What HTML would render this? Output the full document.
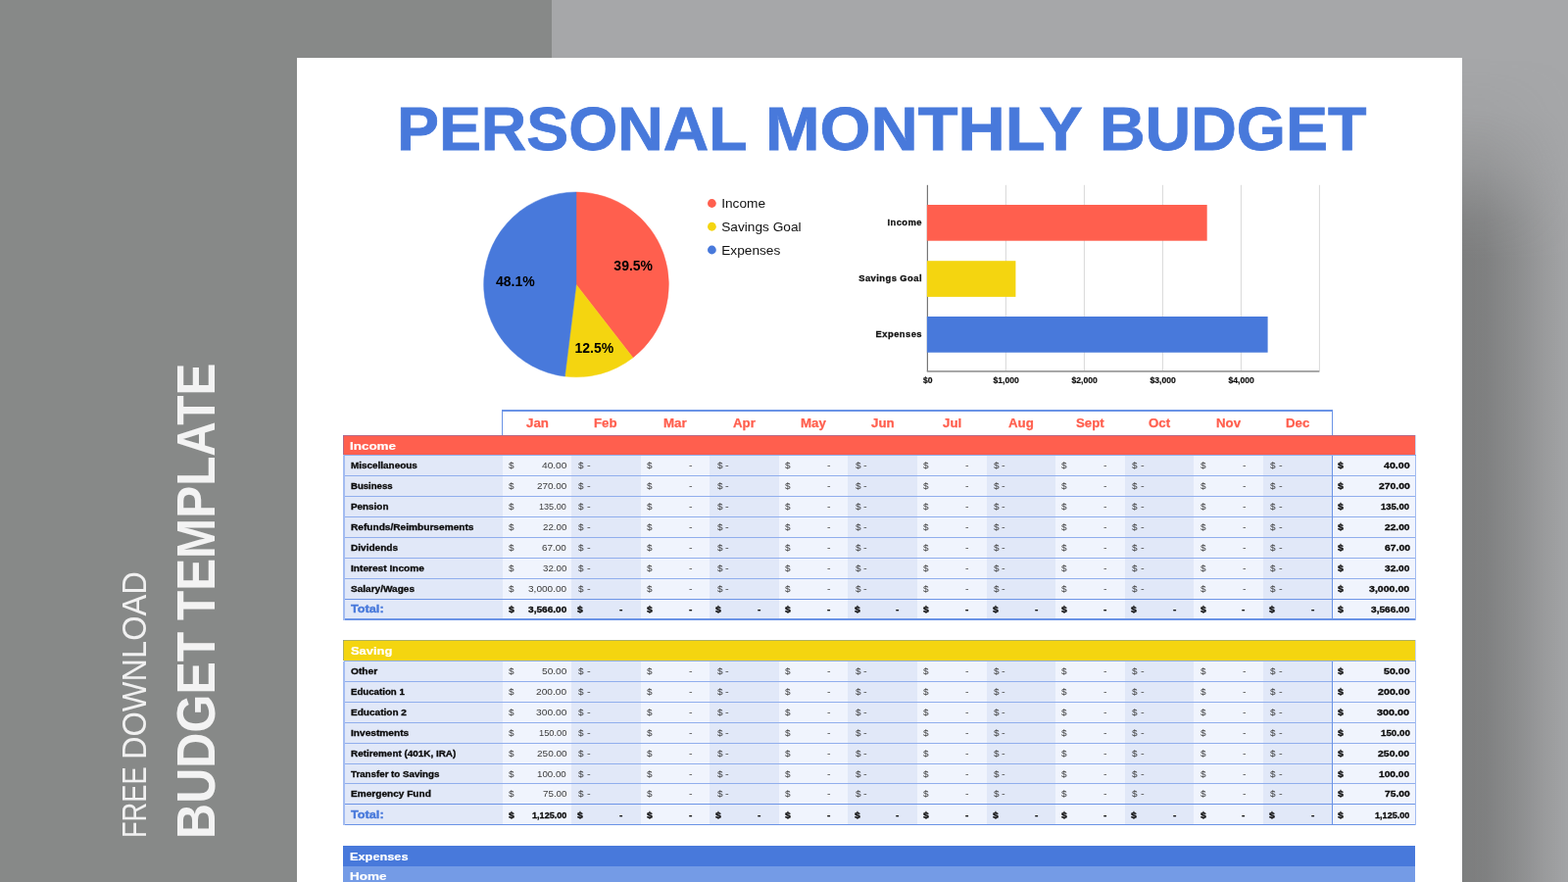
<!DOCTYPE html>
<html lang="en">
<head>
<meta charset="utf-8">
<title>Personal Monthly Budget - Free Download Budget Template</title>
<style>
html,body{margin:0;padding:0;}
body{width:1600px;height:900px;overflow:hidden;background:#a6a7a9;font-family:"Liberation Sans",sans-serif;}
#stage{position:relative;width:1600px;height:900px;overflow:hidden;background:#a6a7a9;}
.leftpanel{position:absolute;left:0;top:0;width:563px;height:900px;background:#878988;}
.shadow{position:absolute;left:1492px;top:59px;width:108px;height:841px;
  background:linear-gradient(to right, rgba(92,93,92,0.56) 0%, rgba(92,93,92,0.52) 22%, rgba(92,93,92,0.36) 50%, rgba(92,93,92,0.16) 78%, rgba(92,93,92,0.04) 100%);
  -webkit-mask-image:linear-gradient(to bottom, rgba(0,0,0,0) 0px, rgba(0,0,0,0.10) 55px, rgba(0,0,0,0.42) 110px, rgba(0,0,0,0.85) 165px, rgba(0,0,0,1) 205px);
  mask-image:linear-gradient(to bottom, rgba(0,0,0,0) 0px, rgba(0,0,0,0.10) 55px, rgba(0,0,0,0.42) 110px, rgba(0,0,0,0.85) 165px, rgba(0,0,0,1) 205px);}
.page{position:absolute;left:303px;top:59px;width:1189px;height:841px;background:#fff;}
.r{position:absolute;}
.t{position:absolute;white-space:nowrap;transform-origin:0 50%;font-family:"Liberation Sans",sans-serif;font-weight:400;}
.t.b{font-weight:700;}
.rot{position:absolute;width:0;height:0;transform:rotate(-90deg);transform-origin:0 0;}
svg.charts{position:absolute;left:0;top:0;}
svg.charts text{font-family:"Liberation Sans",sans-serif;}
</style>
</head>
<body>
<div id="stage">
<div class="leftpanel"></div>
<div class="shadow"></div>
<div class="rot" style="left:149.0px;top:852.9px"><span class="t free" style="left:-2.23px;top:-32.00px;font-size:34.88px;line-height:39px;transform:scaleX(0.7800);color:#f1f1f1;">FREE</span><span class="t free" style="left:78.13px;top:-32.00px;font-size:34.88px;line-height:39px;transform:scaleX(0.9335);color:#f1f1f1;">DOWNLOAD</span></div>
<div class="rot" style="left:219.0px;top:853.1px"><span class="t b budget" style="left:-3.35px;top:-51.00px;font-size:56.32px;line-height:63px;transform:scaleX(0.8891);color:#f3f3f3;">BUDGET</span><span class="t b budget" style="left:219.55px;top:-51.00px;font-size:56.32px;line-height:63px;transform:scaleX(0.8770);color:#f3f3f3;">TEMPLATE</span></div>
<div class="page"></div>
<svg class="charts" width="1600" height="900" viewBox="0 0 1600 900">
<path d="M588.00,290.40 L588.00,196.00 A94.4,94.4 0 0 1 645.86,364.99 Z" fill="#ff5f4e" stroke="#ff5f4e" stroke-width="0.5"/>
<path d="M588.00,290.40 L645.86,364.99 A94.4,94.4 0 0 1 576.40,384.08 Z" fill="#f4d510" stroke="#f4d510" stroke-width="0.5"/>
<path d="M588.00,290.40 L576.40,384.08 A94.4,94.4 0 0 1 588.00,196.00 Z" fill="#4879db" stroke="#4879db" stroke-width="0.5"/>
<text x="646.2" y="275.6" text-anchor="middle" font-size="14" font-weight="bold" fill="#000">39.5%</text>
<text x="525.8" y="291.8" text-anchor="middle" font-size="14" font-weight="bold" fill="#000">48.1%</text>
<text x="606.4" y="359.6" text-anchor="middle" font-size="14" font-weight="bold" fill="#000">12.5%</text>
<circle cx="726.4" cy="207.5" r="4.4" fill="#ff5f4e"/>
<text x="736.2" y="212.20" font-size="13.7" fill="#111">Income</text>
<circle cx="726.4" cy="231.25" r="4.4" fill="#f4d510"/>
<text x="736.2" y="235.95" font-size="13.7" fill="#111">Savings Goal</text>
<circle cx="726.4" cy="255.0" r="4.4" fill="#4879db"/>
<text x="736.2" y="259.70" font-size="13.7" fill="#111">Expenses</text>
<rect x="1025.90" y="188.8" width="1" height="189.6" fill="#d9d9d9"/>
<rect x="1105.90" y="188.8" width="1" height="189.6" fill="#d9d9d9"/>
<rect x="1185.90" y="188.8" width="1" height="189.6" fill="#d9d9d9"/>
<rect x="1265.90" y="188.8" width="1" height="189.6" fill="#d9d9d9"/>
<rect x="1345.90" y="188.8" width="1" height="189.6" fill="#d9d9d9"/>
<rect x="945.80" y="188.8" width="1.2" height="190.2" fill="#777"/>
<rect x="945.80" y="378.2" width="400.60" height="1.5" fill="#8c8c8c"/>
<rect x="945.90" y="209.0" width="285.78" height="36.7" fill="#ff5f4e"/>
<text x="941.0" y="230.25" text-anchor="end" font-size="9.4" font-weight="bold" fill="#111" stroke="#111" stroke-width="0.3" letter-spacing="0.45">Income</text>
<rect x="945.90" y="266.2" width="90.50" height="36.7" fill="#f4d510"/>
<text x="941.0" y="287.45" text-anchor="end" font-size="9.4" font-weight="bold" fill="#111" stroke="#111" stroke-width="0.3" letter-spacing="0.45">Savings Goal</text>
<rect x="945.90" y="323.0" width="347.70" height="36.7" fill="#4879db"/>
<text x="941.0" y="344.25" text-anchor="end" font-size="9.4" font-weight="bold" fill="#111" stroke="#111" stroke-width="0.3" letter-spacing="0.45">Expenses</text>
<text x="946.70" y="391.3" text-anchor="middle" font-size="8.6" font-weight="bold" fill="#111" stroke="#111" stroke-width="0.2">$0</text>
<text x="1026.70" y="391.3" text-anchor="middle" font-size="8.6" font-weight="bold" fill="#111" stroke="#111" stroke-width="0.2">$1,000</text>
<text x="1106.70" y="391.3" text-anchor="middle" font-size="8.6" font-weight="bold" fill="#111" stroke="#111" stroke-width="0.2">$2,000</text>
<text x="1186.70" y="391.3" text-anchor="middle" font-size="8.6" font-weight="bold" fill="#111" stroke="#111" stroke-width="0.2">$3,000</text>
<text x="1266.70" y="391.3" text-anchor="middle" font-size="8.6" font-weight="bold" fill="#111" stroke="#111" stroke-width="0.2">$4,000</text>
</svg>
<div class="r ln" style="left:511.75px;top:418.30px;width:1.50px;height:26.00px;background:#6a93e6;"></div>
<div class="r ln" style="left:1358.75px;top:418.30px;width:1.50px;height:26.00px;background:#6a93e6;"></div>
<div class="r ln" style="left:511.75px;top:418.30px;width:848.50px;height:1.50px;background:#6a93e6;"></div>
<div class="r band" style="left:350.20px;top:443.60px;width:1094.30px;height:20.90px;background:#ff5f4e;"></div>
<div class="r ln" style="left:350.20px;top:443.60px;width:1094.30px;height:1.00px;background:rgba(72,121,219,0.40);"></div>
<div class="r ln" style="left:350.50px;top:464.40px;width:1094.00px;height:1.00px;background:#90aeed;"></div>
<div class="r " style="left:350.50px;top:464.90px;width:162.00px;height:167.20px;background:#e1e8f8;"></div>
<div class="r " style="left:512.50px;top:464.90px;width:70.58px;height:167.20px;background:#f0f4fd;"></div>
<div class="r " style="left:583.08px;top:464.90px;width:70.58px;height:167.20px;background:#e1e8f8;"></div>
<div class="r " style="left:653.67px;top:464.90px;width:70.58px;height:167.20px;background:#f0f4fd;"></div>
<div class="r " style="left:724.25px;top:464.90px;width:70.58px;height:167.20px;background:#e1e8f8;"></div>
<div class="r " style="left:794.83px;top:464.90px;width:70.58px;height:167.20px;background:#f0f4fd;"></div>
<div class="r " style="left:865.42px;top:464.90px;width:70.58px;height:167.20px;background:#e1e8f8;"></div>
<div class="r " style="left:936.00px;top:464.90px;width:70.58px;height:167.20px;background:#f0f4fd;"></div>
<div class="r " style="left:1006.58px;top:464.90px;width:70.58px;height:167.20px;background:#e1e8f8;"></div>
<div class="r " style="left:1077.17px;top:464.90px;width:70.58px;height:167.20px;background:#f0f4fd;"></div>
<div class="r " style="left:1147.75px;top:464.90px;width:70.58px;height:167.20px;background:#e1e8f8;"></div>
<div class="r " style="left:1218.33px;top:464.90px;width:70.58px;height:167.20px;background:#f0f4fd;"></div>
<div class="r " style="left:1288.92px;top:464.90px;width:70.58px;height:167.20px;background:#e1e8f8;"></div>
<div class="r " style="left:1359.50px;top:464.90px;width:85.00px;height:167.20px;background:#f0f4fd;"></div>
<div class="r ln" style="left:350.50px;top:485.30px;width:1094.00px;height:1.00px;background:#90aeed;"></div>
<div class="r ln" style="left:350.50px;top:506.20px;width:1094.00px;height:1.00px;background:#90aeed;"></div>
<div class="r ln" style="left:350.50px;top:527.10px;width:1094.00px;height:1.00px;background:#90aeed;"></div>
<div class="r ln" style="left:350.50px;top:548.00px;width:1094.00px;height:1.00px;background:#90aeed;"></div>
<div class="r ln" style="left:350.50px;top:568.90px;width:1094.00px;height:1.00px;background:#90aeed;"></div>
<div class="r ln" style="left:350.50px;top:589.80px;width:1094.00px;height:1.00px;background:#90aeed;"></div>
<div class="r ln" style="left:350.50px;top:610.57px;width:1094.00px;height:1.25px;background:#6d95e7;"></div>
<div class="r ln" style="left:350.50px;top:631.35px;width:1094.00px;height:1.50px;background:#6a93e6;"></div>
<div class="r ln" style="left:350.20px;top:464.90px;width:1.60px;height:167.95px;background:#a3bcf1;"></div>
<div class="r ln" style="left:350.10px;top:443.60px;width:1.00px;height:21.30px;background:rgba(72,121,219,0.40);"></div>
<div class="r ln" style="left:1443.80px;top:443.60px;width:1.00px;height:21.30px;background:rgba(72,121,219,0.30);"></div>
<div class="r ln" style="left:1443.50px;top:464.90px;width:1.60px;height:167.95px;background:#a3bcf1;"></div>
<div class="r ln" style="left:1358.75px;top:464.90px;width:1.50px;height:167.20px;background:#6a93e6;"></div>
<div class="r band" style="left:350.20px;top:653.30px;width:1094.30px;height:20.80px;background:#f4d510;"></div>
<div class="r ln" style="left:350.20px;top:653.30px;width:1094.30px;height:1.00px;background:rgba(72,121,219,0.40);"></div>
<div class="r ln" style="left:350.50px;top:674.00px;width:1094.00px;height:1.00px;background:#90aeed;"></div>
<div class="r " style="left:350.50px;top:674.50px;width:162.00px;height:167.20px;background:#e1e8f8;"></div>
<div class="r " style="left:512.50px;top:674.50px;width:70.58px;height:167.20px;background:#f0f4fd;"></div>
<div class="r " style="left:583.08px;top:674.50px;width:70.58px;height:167.20px;background:#e1e8f8;"></div>
<div class="r " style="left:653.67px;top:674.50px;width:70.58px;height:167.20px;background:#f0f4fd;"></div>
<div class="r " style="left:724.25px;top:674.50px;width:70.58px;height:167.20px;background:#e1e8f8;"></div>
<div class="r " style="left:794.83px;top:674.50px;width:70.58px;height:167.20px;background:#f0f4fd;"></div>
<div class="r " style="left:865.42px;top:674.50px;width:70.58px;height:167.20px;background:#e1e8f8;"></div>
<div class="r " style="left:936.00px;top:674.50px;width:70.58px;height:167.20px;background:#f0f4fd;"></div>
<div class="r " style="left:1006.58px;top:674.50px;width:70.58px;height:167.20px;background:#e1e8f8;"></div>
<div class="r " style="left:1077.17px;top:674.50px;width:70.58px;height:167.20px;background:#f0f4fd;"></div>
<div class="r " style="left:1147.75px;top:674.50px;width:70.58px;height:167.20px;background:#e1e8f8;"></div>
<div class="r " style="left:1218.33px;top:674.50px;width:70.58px;height:167.20px;background:#f0f4fd;"></div>
<div class="r " style="left:1288.92px;top:674.50px;width:70.58px;height:167.20px;background:#e1e8f8;"></div>
<div class="r " style="left:1359.50px;top:674.50px;width:85.00px;height:167.20px;background:#f0f4fd;"></div>
<div class="r ln" style="left:350.50px;top:694.90px;width:1094.00px;height:1.00px;background:#90aeed;"></div>
<div class="r ln" style="left:350.50px;top:715.80px;width:1094.00px;height:1.00px;background:#90aeed;"></div>
<div class="r ln" style="left:350.50px;top:736.70px;width:1094.00px;height:1.00px;background:#90aeed;"></div>
<div class="r ln" style="left:350.50px;top:757.60px;width:1094.00px;height:1.00px;background:#90aeed;"></div>
<div class="r ln" style="left:350.50px;top:778.50px;width:1094.00px;height:1.00px;background:#90aeed;"></div>
<div class="r ln" style="left:350.50px;top:799.40px;width:1094.00px;height:1.00px;background:#90aeed;"></div>
<div class="r ln" style="left:350.50px;top:820.17px;width:1094.00px;height:1.25px;background:#6d95e7;"></div>
<div class="r ln" style="left:350.50px;top:840.95px;width:1094.00px;height:1.50px;background:#6a93e6;"></div>
<div class="r ln" style="left:350.20px;top:674.50px;width:1.60px;height:167.95px;background:#a3bcf1;"></div>
<div class="r ln" style="left:350.10px;top:653.30px;width:1.00px;height:21.20px;background:rgba(72,121,219,0.40);"></div>
<div class="r ln" style="left:1443.80px;top:653.30px;width:1.00px;height:21.20px;background:rgba(72,121,219,0.30);"></div>
<div class="r ln" style="left:1443.50px;top:674.50px;width:1.60px;height:167.95px;background:#a3bcf1;"></div>
<div class="r ln" style="left:1358.75px;top:674.50px;width:1.50px;height:167.20px;background:#6a93e6;"></div>
<div class="r band" style="left:350.20px;top:863.00px;width:1094.30px;height:20.80px;background:#4879db;"></div>
<div class="r band" style="left:350.20px;top:883.70px;width:1094.30px;height:20.00px;background:#749be6;"></div>
<span class="t b title" style="left:405.26px;top:97.00px;font-size:62.07px;line-height:69px;transform:scaleX(1.0369);color:#4879db;-webkit-text-stroke:0.8px #4879db;">PERSONAL</span>
<span class="t b title" style="left:780.67px;top:97.00px;font-size:62.07px;line-height:69px;transform:scaleX(1.0753);color:#4879db;-webkit-text-stroke:0.8px #4879db;">MONTHLY</span>
<span class="t b title" style="left:1121.85px;top:97.00px;font-size:62.07px;line-height:69px;transform:scaleX(1.0400);color:#4879db;-webkit-text-stroke:0.8px #4879db;">BUDGET</span>
<span class="t b mon" style="left:536.67px;top:425.00px;font-size:11.85px;line-height:14px;transform:scaleX(1.1200);color:#ff5f4e;-webkit-text-stroke:0.25px #ff5f4e;">Jan</span>
<span class="t b mon" style="left:606.41px;top:425.00px;font-size:11.85px;line-height:14px;transform:scaleX(1.1200);color:#ff5f4e;-webkit-text-stroke:0.25px #ff5f4e;">Feb</span>
<span class="t b mon" style="left:676.82px;top:425.00px;font-size:11.85px;line-height:14px;transform:scaleX(1.1200);color:#ff5f4e;-webkit-text-stroke:0.25px #ff5f4e;">Mar</span>
<span class="t b mon" style="left:748.05px;top:425.00px;font-size:11.85px;line-height:14px;transform:scaleX(1.1200);color:#ff5f4e;-webkit-text-stroke:0.25px #ff5f4e;">Apr</span>
<span class="t b mon" style="left:816.81px;top:425.00px;font-size:11.85px;line-height:14px;transform:scaleX(1.1200);color:#ff5f4e;-webkit-text-stroke:0.25px #ff5f4e;">May</span>
<span class="t b mon" style="left:889.22px;top:425.00px;font-size:11.85px;line-height:14px;transform:scaleX(1.1200);color:#ff5f4e;-webkit-text-stroke:0.25px #ff5f4e;">Jun</span>
<span class="t b mon" style="left:962.07px;top:425.00px;font-size:11.85px;line-height:14px;transform:scaleX(1.1200);color:#ff5f4e;-webkit-text-stroke:0.25px #ff5f4e;">Jul</span>
<span class="t b mon" style="left:1029.26px;top:425.00px;font-size:11.85px;line-height:14px;transform:scaleX(1.1200);color:#ff5f4e;-webkit-text-stroke:0.25px #ff5f4e;">Aug</span>
<span class="t b mon" style="left:1097.97px;top:425.00px;font-size:11.85px;line-height:14px;transform:scaleX(1.1200);color:#ff5f4e;-webkit-text-stroke:0.25px #ff5f4e;">Sept</span>
<span class="t b mon" style="left:1171.79px;top:425.00px;font-size:11.85px;line-height:14px;transform:scaleX(1.1200);color:#ff5f4e;-webkit-text-stroke:0.25px #ff5f4e;">Oct</span>
<span class="t b mon" style="left:1240.68px;top:425.00px;font-size:11.85px;line-height:14px;transform:scaleX(1.1200);color:#ff5f4e;-webkit-text-stroke:0.25px #ff5f4e;">Nov</span>
<span class="t b mon" style="left:1311.79px;top:425.00px;font-size:11.85px;line-height:14px;transform:scaleX(1.1200);color:#ff5f4e;-webkit-text-stroke:0.25px #ff5f4e;">Dec</span>
<span class="t b hd" style="left:357.02px;top:448.00px;font-size:11.77px;line-height:13px;transform:scaleX(1.1414);color:#fff;-webkit-text-stroke:0.2px #fff;">Income</span>
<span class="t b lab" style="left:357.51px;top:470.00px;font-size:8.58px;line-height:10px;transform:scaleX(1.1566);color:#0c0c0c;-webkit-text-stroke:0.3px #0c0c0c;">Miscellaneous</span>
<span class="t num" style="left:518.69px;top:470.00px;font-size:9.16px;line-height:10px;transform:scaleX(1.0933);color:#3c3c3c;">$</span>
<span class="t num" style="left:552.77px;top:470.00px;font-size:9.01px;line-height:10px;transform:scaleX(1.1287);color:#3c3c3c;">40.00</span>
<span class="t num" style="left:590.38px;top:470.00px;font-size:9.16px;line-height:10px;transform:scaleX(1.0933);color:#3c3c3c;">$</span>
<span class="t num" style="left:598.89px;top:470.00px;font-size:9.16px;line-height:10px;transform:scaleX(1.2008);color:#3c3c3c;">-</span>
<span class="t num" style="left:659.86px;top:470.00px;font-size:9.16px;line-height:10px;transform:scaleX(1.0933);color:#3c3c3c;">$</span>
<span class="t num" style="left:702.90px;top:470.00px;font-size:9.16px;line-height:10px;transform:scaleX(1.1563);color:#3c3c3c;">-</span>
<span class="t num" style="left:731.54px;top:470.00px;font-size:9.16px;line-height:10px;transform:scaleX(1.0933);color:#3c3c3c;">$</span>
<span class="t num" style="left:740.06px;top:470.00px;font-size:9.16px;line-height:10px;transform:scaleX(1.2008);color:#3c3c3c;">-</span>
<span class="t num" style="left:801.03px;top:470.00px;font-size:9.16px;line-height:10px;transform:scaleX(1.0933);color:#3c3c3c;">$</span>
<span class="t num" style="left:844.06px;top:470.00px;font-size:9.16px;line-height:10px;transform:scaleX(1.1563);color:#3c3c3c;">-</span>
<span class="t num" style="left:872.71px;top:470.00px;font-size:9.16px;line-height:10px;transform:scaleX(1.0933);color:#3c3c3c;">$</span>
<span class="t num" style="left:881.23px;top:470.00px;font-size:9.16px;line-height:10px;transform:scaleX(1.2008);color:#3c3c3c;">-</span>
<span class="t num" style="left:942.19px;top:470.00px;font-size:9.16px;line-height:10px;transform:scaleX(1.0933);color:#3c3c3c;">$</span>
<span class="t num" style="left:985.23px;top:470.00px;font-size:9.16px;line-height:10px;transform:scaleX(1.1563);color:#3c3c3c;">-</span>
<span class="t num" style="left:1013.88px;top:470.00px;font-size:9.16px;line-height:10px;transform:scaleX(1.0933);color:#3c3c3c;">$</span>
<span class="t num" style="left:1022.39px;top:470.00px;font-size:9.16px;line-height:10px;transform:scaleX(1.2008);color:#3c3c3c;">-</span>
<span class="t num" style="left:1083.36px;top:470.00px;font-size:9.16px;line-height:10px;transform:scaleX(1.0933);color:#3c3c3c;">$</span>
<span class="t num" style="left:1126.40px;top:470.00px;font-size:9.16px;line-height:10px;transform:scaleX(1.1563);color:#3c3c3c;">-</span>
<span class="t num" style="left:1155.04px;top:470.00px;font-size:9.16px;line-height:10px;transform:scaleX(1.0933);color:#3c3c3c;">$</span>
<span class="t num" style="left:1163.56px;top:470.00px;font-size:9.16px;line-height:10px;transform:scaleX(1.2008);color:#3c3c3c;">-</span>
<span class="t num" style="left:1224.53px;top:470.00px;font-size:9.16px;line-height:10px;transform:scaleX(1.0933);color:#3c3c3c;">$</span>
<span class="t num" style="left:1267.56px;top:470.00px;font-size:9.16px;line-height:10px;transform:scaleX(1.1563);color:#3c3c3c;">-</span>
<span class="t num" style="left:1296.21px;top:470.00px;font-size:9.16px;line-height:10px;transform:scaleX(1.0933);color:#3c3c3c;">$</span>
<span class="t num" style="left:1304.73px;top:470.00px;font-size:9.16px;line-height:10px;transform:scaleX(1.2008);color:#3c3c3c;">-</span>
<span class="t b numb" style="left:1365.04px;top:470.00px;font-size:8.72px;line-height:10px;transform:scaleX(1.2193);color:#0c0c0c;-webkit-text-stroke:0.3px #0c0c0c;">$</span>
<span class="t b numb" style="left:1411.81px;top:470.00px;font-size:8.58px;line-height:10px;transform:scaleX(1.2408);color:#0c0c0c;-webkit-text-stroke:0.3px #0c0c0c;">40.00</span>
<span class="t b lab" style="left:357.53px;top:491.00px;font-size:8.58px;line-height:10px;transform:scaleX(1.1164);color:#0c0c0c;-webkit-text-stroke:0.3px #0c0c0c;">Business</span>
<span class="t num" style="left:518.69px;top:491.00px;font-size:9.16px;line-height:10px;transform:scaleX(1.0933);color:#3c3c3c;">$</span>
<span class="t num" style="left:547.80px;top:491.00px;font-size:9.01px;line-height:10px;transform:scaleX(1.1038);color:#3c3c3c;">270.00</span>
<span class="t num" style="left:590.38px;top:491.00px;font-size:9.16px;line-height:10px;transform:scaleX(1.0933);color:#3c3c3c;">$</span>
<span class="t num" style="left:598.89px;top:491.00px;font-size:9.16px;line-height:10px;transform:scaleX(1.2008);color:#3c3c3c;">-</span>
<span class="t num" style="left:659.86px;top:491.00px;font-size:9.16px;line-height:10px;transform:scaleX(1.0933);color:#3c3c3c;">$</span>
<span class="t num" style="left:702.90px;top:491.00px;font-size:9.16px;line-height:10px;transform:scaleX(1.1563);color:#3c3c3c;">-</span>
<span class="t num" style="left:731.54px;top:491.00px;font-size:9.16px;line-height:10px;transform:scaleX(1.0933);color:#3c3c3c;">$</span>
<span class="t num" style="left:740.06px;top:491.00px;font-size:9.16px;line-height:10px;transform:scaleX(1.2008);color:#3c3c3c;">-</span>
<span class="t num" style="left:801.03px;top:491.00px;font-size:9.16px;line-height:10px;transform:scaleX(1.0933);color:#3c3c3c;">$</span>
<span class="t num" style="left:844.06px;top:491.00px;font-size:9.16px;line-height:10px;transform:scaleX(1.1563);color:#3c3c3c;">-</span>
<span class="t num" style="left:872.71px;top:491.00px;font-size:9.16px;line-height:10px;transform:scaleX(1.0933);color:#3c3c3c;">$</span>
<span class="t num" style="left:881.23px;top:491.00px;font-size:9.16px;line-height:10px;transform:scaleX(1.2008);color:#3c3c3c;">-</span>
<span class="t num" style="left:942.19px;top:491.00px;font-size:9.16px;line-height:10px;transform:scaleX(1.0933);color:#3c3c3c;">$</span>
<span class="t num" style="left:985.23px;top:491.00px;font-size:9.16px;line-height:10px;transform:scaleX(1.1563);color:#3c3c3c;">-</span>
<span class="t num" style="left:1013.88px;top:491.00px;font-size:9.16px;line-height:10px;transform:scaleX(1.0933);color:#3c3c3c;">$</span>
<span class="t num" style="left:1022.39px;top:491.00px;font-size:9.16px;line-height:10px;transform:scaleX(1.2008);color:#3c3c3c;">-</span>
<span class="t num" style="left:1083.36px;top:491.00px;font-size:9.16px;line-height:10px;transform:scaleX(1.0933);color:#3c3c3c;">$</span>
<span class="t num" style="left:1126.40px;top:491.00px;font-size:9.16px;line-height:10px;transform:scaleX(1.1563);color:#3c3c3c;">-</span>
<span class="t num" style="left:1155.04px;top:491.00px;font-size:9.16px;line-height:10px;transform:scaleX(1.0933);color:#3c3c3c;">$</span>
<span class="t num" style="left:1163.56px;top:491.00px;font-size:9.16px;line-height:10px;transform:scaleX(1.2008);color:#3c3c3c;">-</span>
<span class="t num" style="left:1224.53px;top:491.00px;font-size:9.16px;line-height:10px;transform:scaleX(1.0933);color:#3c3c3c;">$</span>
<span class="t num" style="left:1267.56px;top:491.00px;font-size:9.16px;line-height:10px;transform:scaleX(1.1563);color:#3c3c3c;">-</span>
<span class="t num" style="left:1296.21px;top:491.00px;font-size:9.16px;line-height:10px;transform:scaleX(1.0933);color:#3c3c3c;">$</span>
<span class="t num" style="left:1304.73px;top:491.00px;font-size:9.16px;line-height:10px;transform:scaleX(1.2008);color:#3c3c3c;">-</span>
<span class="t b numb" style="left:1365.04px;top:491.00px;font-size:8.72px;line-height:10px;transform:scaleX(1.2193);color:#0c0c0c;-webkit-text-stroke:0.3px #0c0c0c;">$</span>
<span class="t b numb" style="left:1406.60px;top:491.00px;font-size:8.58px;line-height:10px;transform:scaleX(1.2130);color:#0c0c0c;-webkit-text-stroke:0.3px #0c0c0c;">270.00</span>
<span class="t b lab" style="left:357.51px;top:512.00px;font-size:8.58px;line-height:10px;transform:scaleX(1.1514);color:#0c0c0c;-webkit-text-stroke:0.3px #0c0c0c;">Pension</span>
<span class="t num" style="left:518.69px;top:512.00px;font-size:9.16px;line-height:10px;transform:scaleX(1.0933);color:#3c3c3c;">$</span>
<span class="t num" style="left:550.41px;top:512.00px;font-size:9.01px;line-height:10px;transform:scaleX(1.0078);color:#3c3c3c;">135.00</span>
<span class="t num" style="left:590.38px;top:512.00px;font-size:9.16px;line-height:10px;transform:scaleX(1.0933);color:#3c3c3c;">$</span>
<span class="t num" style="left:598.89px;top:512.00px;font-size:9.16px;line-height:10px;transform:scaleX(1.2008);color:#3c3c3c;">-</span>
<span class="t num" style="left:659.86px;top:512.00px;font-size:9.16px;line-height:10px;transform:scaleX(1.0933);color:#3c3c3c;">$</span>
<span class="t num" style="left:702.90px;top:512.00px;font-size:9.16px;line-height:10px;transform:scaleX(1.1563);color:#3c3c3c;">-</span>
<span class="t num" style="left:731.54px;top:512.00px;font-size:9.16px;line-height:10px;transform:scaleX(1.0933);color:#3c3c3c;">$</span>
<span class="t num" style="left:740.06px;top:512.00px;font-size:9.16px;line-height:10px;transform:scaleX(1.2008);color:#3c3c3c;">-</span>
<span class="t num" style="left:801.03px;top:512.00px;font-size:9.16px;line-height:10px;transform:scaleX(1.0933);color:#3c3c3c;">$</span>
<span class="t num" style="left:844.06px;top:512.00px;font-size:9.16px;line-height:10px;transform:scaleX(1.1563);color:#3c3c3c;">-</span>
<span class="t num" style="left:872.71px;top:512.00px;font-size:9.16px;line-height:10px;transform:scaleX(1.0933);color:#3c3c3c;">$</span>
<span class="t num" style="left:881.23px;top:512.00px;font-size:9.16px;line-height:10px;transform:scaleX(1.2008);color:#3c3c3c;">-</span>
<span class="t num" style="left:942.19px;top:512.00px;font-size:9.16px;line-height:10px;transform:scaleX(1.0933);color:#3c3c3c;">$</span>
<span class="t num" style="left:985.23px;top:512.00px;font-size:9.16px;line-height:10px;transform:scaleX(1.1563);color:#3c3c3c;">-</span>
<span class="t num" style="left:1013.88px;top:512.00px;font-size:9.16px;line-height:10px;transform:scaleX(1.0933);color:#3c3c3c;">$</span>
<span class="t num" style="left:1022.39px;top:512.00px;font-size:9.16px;line-height:10px;transform:scaleX(1.2008);color:#3c3c3c;">-</span>
<span class="t num" style="left:1083.36px;top:512.00px;font-size:9.16px;line-height:10px;transform:scaleX(1.0933);color:#3c3c3c;">$</span>
<span class="t num" style="left:1126.40px;top:512.00px;font-size:9.16px;line-height:10px;transform:scaleX(1.1563);color:#3c3c3c;">-</span>
<span class="t num" style="left:1155.04px;top:512.00px;font-size:9.16px;line-height:10px;transform:scaleX(1.0933);color:#3c3c3c;">$</span>
<span class="t num" style="left:1163.56px;top:512.00px;font-size:9.16px;line-height:10px;transform:scaleX(1.2008);color:#3c3c3c;">-</span>
<span class="t num" style="left:1224.53px;top:512.00px;font-size:9.16px;line-height:10px;transform:scaleX(1.0933);color:#3c3c3c;">$</span>
<span class="t num" style="left:1267.56px;top:512.00px;font-size:9.16px;line-height:10px;transform:scaleX(1.1563);color:#3c3c3c;">-</span>
<span class="t num" style="left:1296.21px;top:512.00px;font-size:9.16px;line-height:10px;transform:scaleX(1.0933);color:#3c3c3c;">$</span>
<span class="t num" style="left:1304.73px;top:512.00px;font-size:9.16px;line-height:10px;transform:scaleX(1.2008);color:#3c3c3c;">-</span>
<span class="t b numb" style="left:1365.04px;top:512.00px;font-size:8.72px;line-height:10px;transform:scaleX(1.2193);color:#0c0c0c;-webkit-text-stroke:0.3px #0c0c0c;">$</span>
<span class="t b numb" style="left:1409.33px;top:512.00px;font-size:8.58px;line-height:10px;transform:scaleX(1.1083);color:#0c0c0c;-webkit-text-stroke:0.3px #0c0c0c;">135.00</span>
<span class="t b lab" style="left:357.50px;top:533.00px;font-size:8.58px;line-height:10px;transform:scaleX(1.1801);color:#0c0c0c;-webkit-text-stroke:0.3px #0c0c0c;">Refunds/Reimbursements</span>
<span class="t num" style="left:518.69px;top:533.00px;font-size:9.16px;line-height:10px;transform:scaleX(1.0933);color:#3c3c3c;">$</span>
<span class="t num" style="left:553.71px;top:533.00px;font-size:9.01px;line-height:10px;transform:scaleX(1.0862);color:#3c3c3c;">22.00</span>
<span class="t num" style="left:590.38px;top:533.00px;font-size:9.16px;line-height:10px;transform:scaleX(1.0933);color:#3c3c3c;">$</span>
<span class="t num" style="left:598.89px;top:533.00px;font-size:9.16px;line-height:10px;transform:scaleX(1.2008);color:#3c3c3c;">-</span>
<span class="t num" style="left:659.86px;top:533.00px;font-size:9.16px;line-height:10px;transform:scaleX(1.0933);color:#3c3c3c;">$</span>
<span class="t num" style="left:702.90px;top:533.00px;font-size:9.16px;line-height:10px;transform:scaleX(1.1563);color:#3c3c3c;">-</span>
<span class="t num" style="left:731.54px;top:533.00px;font-size:9.16px;line-height:10px;transform:scaleX(1.0933);color:#3c3c3c;">$</span>
<span class="t num" style="left:740.06px;top:533.00px;font-size:9.16px;line-height:10px;transform:scaleX(1.2008);color:#3c3c3c;">-</span>
<span class="t num" style="left:801.03px;top:533.00px;font-size:9.16px;line-height:10px;transform:scaleX(1.0933);color:#3c3c3c;">$</span>
<span class="t num" style="left:844.06px;top:533.00px;font-size:9.16px;line-height:10px;transform:scaleX(1.1563);color:#3c3c3c;">-</span>
<span class="t num" style="left:872.71px;top:533.00px;font-size:9.16px;line-height:10px;transform:scaleX(1.0933);color:#3c3c3c;">$</span>
<span class="t num" style="left:881.23px;top:533.00px;font-size:9.16px;line-height:10px;transform:scaleX(1.2008);color:#3c3c3c;">-</span>
<span class="t num" style="left:942.19px;top:533.00px;font-size:9.16px;line-height:10px;transform:scaleX(1.0933);color:#3c3c3c;">$</span>
<span class="t num" style="left:985.23px;top:533.00px;font-size:9.16px;line-height:10px;transform:scaleX(1.1563);color:#3c3c3c;">-</span>
<span class="t num" style="left:1013.88px;top:533.00px;font-size:9.16px;line-height:10px;transform:scaleX(1.0933);color:#3c3c3c;">$</span>
<span class="t num" style="left:1022.39px;top:533.00px;font-size:9.16px;line-height:10px;transform:scaleX(1.2008);color:#3c3c3c;">-</span>
<span class="t num" style="left:1083.36px;top:533.00px;font-size:9.16px;line-height:10px;transform:scaleX(1.0933);color:#3c3c3c;">$</span>
<span class="t num" style="left:1126.40px;top:533.00px;font-size:9.16px;line-height:10px;transform:scaleX(1.1563);color:#3c3c3c;">-</span>
<span class="t num" style="left:1155.04px;top:533.00px;font-size:9.16px;line-height:10px;transform:scaleX(1.0933);color:#3c3c3c;">$</span>
<span class="t num" style="left:1163.56px;top:533.00px;font-size:9.16px;line-height:10px;transform:scaleX(1.2008);color:#3c3c3c;">-</span>
<span class="t num" style="left:1224.53px;top:533.00px;font-size:9.16px;line-height:10px;transform:scaleX(1.0933);color:#3c3c3c;">$</span>
<span class="t num" style="left:1267.56px;top:533.00px;font-size:9.16px;line-height:10px;transform:scaleX(1.1563);color:#3c3c3c;">-</span>
<span class="t num" style="left:1296.21px;top:533.00px;font-size:9.16px;line-height:10px;transform:scaleX(1.0933);color:#3c3c3c;">$</span>
<span class="t num" style="left:1304.73px;top:533.00px;font-size:9.16px;line-height:10px;transform:scaleX(1.2008);color:#3c3c3c;">-</span>
<span class="t b numb" style="left:1365.04px;top:533.00px;font-size:8.72px;line-height:10px;transform:scaleX(1.2193);color:#0c0c0c;-webkit-text-stroke:0.3px #0c0c0c;">$</span>
<span class="t b numb" style="left:1412.89px;top:533.00px;font-size:8.58px;line-height:10px;transform:scaleX(1.1901);color:#0c0c0c;-webkit-text-stroke:0.3px #0c0c0c;">22.00</span>
<span class="t b lab" style="left:357.50px;top:554.00px;font-size:8.58px;line-height:10px;transform:scaleX(1.1715);color:#0c0c0c;-webkit-text-stroke:0.3px #0c0c0c;">Dividends</span>
<span class="t num" style="left:518.69px;top:554.00px;font-size:9.16px;line-height:10px;transform:scaleX(1.0933);color:#3c3c3c;">$</span>
<span class="t num" style="left:553.40px;top:554.00px;font-size:9.01px;line-height:10px;transform:scaleX(1.1003);color:#3c3c3c;">67.00</span>
<span class="t num" style="left:590.38px;top:554.00px;font-size:9.16px;line-height:10px;transform:scaleX(1.0933);color:#3c3c3c;">$</span>
<span class="t num" style="left:598.89px;top:554.00px;font-size:9.16px;line-height:10px;transform:scaleX(1.2008);color:#3c3c3c;">-</span>
<span class="t num" style="left:659.86px;top:554.00px;font-size:9.16px;line-height:10px;transform:scaleX(1.0933);color:#3c3c3c;">$</span>
<span class="t num" style="left:702.90px;top:554.00px;font-size:9.16px;line-height:10px;transform:scaleX(1.1563);color:#3c3c3c;">-</span>
<span class="t num" style="left:731.54px;top:554.00px;font-size:9.16px;line-height:10px;transform:scaleX(1.0933);color:#3c3c3c;">$</span>
<span class="t num" style="left:740.06px;top:554.00px;font-size:9.16px;line-height:10px;transform:scaleX(1.2008);color:#3c3c3c;">-</span>
<span class="t num" style="left:801.03px;top:554.00px;font-size:9.16px;line-height:10px;transform:scaleX(1.0933);color:#3c3c3c;">$</span>
<span class="t num" style="left:844.06px;top:554.00px;font-size:9.16px;line-height:10px;transform:scaleX(1.1563);color:#3c3c3c;">-</span>
<span class="t num" style="left:872.71px;top:554.00px;font-size:9.16px;line-height:10px;transform:scaleX(1.0933);color:#3c3c3c;">$</span>
<span class="t num" style="left:881.23px;top:554.00px;font-size:9.16px;line-height:10px;transform:scaleX(1.2008);color:#3c3c3c;">-</span>
<span class="t num" style="left:942.19px;top:554.00px;font-size:9.16px;line-height:10px;transform:scaleX(1.0933);color:#3c3c3c;">$</span>
<span class="t num" style="left:985.23px;top:554.00px;font-size:9.16px;line-height:10px;transform:scaleX(1.1563);color:#3c3c3c;">-</span>
<span class="t num" style="left:1013.88px;top:554.00px;font-size:9.16px;line-height:10px;transform:scaleX(1.0933);color:#3c3c3c;">$</span>
<span class="t num" style="left:1022.39px;top:554.00px;font-size:9.16px;line-height:10px;transform:scaleX(1.2008);color:#3c3c3c;">-</span>
<span class="t num" style="left:1083.36px;top:554.00px;font-size:9.16px;line-height:10px;transform:scaleX(1.0933);color:#3c3c3c;">$</span>
<span class="t num" style="left:1126.40px;top:554.00px;font-size:9.16px;line-height:10px;transform:scaleX(1.1563);color:#3c3c3c;">-</span>
<span class="t num" style="left:1155.04px;top:554.00px;font-size:9.16px;line-height:10px;transform:scaleX(1.0933);color:#3c3c3c;">$</span>
<span class="t num" style="left:1163.56px;top:554.00px;font-size:9.16px;line-height:10px;transform:scaleX(1.2008);color:#3c3c3c;">-</span>
<span class="t num" style="left:1224.53px;top:554.00px;font-size:9.16px;line-height:10px;transform:scaleX(1.0933);color:#3c3c3c;">$</span>
<span class="t num" style="left:1267.56px;top:554.00px;font-size:9.16px;line-height:10px;transform:scaleX(1.1563);color:#3c3c3c;">-</span>
<span class="t num" style="left:1296.21px;top:554.00px;font-size:9.16px;line-height:10px;transform:scaleX(1.0933);color:#3c3c3c;">$</span>
<span class="t num" style="left:1304.73px;top:554.00px;font-size:9.16px;line-height:10px;transform:scaleX(1.2008);color:#3c3c3c;">-</span>
<span class="t b numb" style="left:1365.04px;top:554.00px;font-size:8.72px;line-height:10px;transform:scaleX(1.2193);color:#0c0c0c;-webkit-text-stroke:0.3px #0c0c0c;">$</span>
<span class="t b numb" style="left:1412.55px;top:554.00px;font-size:8.58px;line-height:10px;transform:scaleX(1.2062);color:#0c0c0c;-webkit-text-stroke:0.3px #0c0c0c;">67.00</span>
<span class="t b lab" style="left:358.10px;top:575.00px;font-size:8.58px;line-height:10px;transform:scaleX(1.1824);color:#0c0c0c;-webkit-text-stroke:0.3px #0c0c0c;">Interest Income</span>
<span class="t num" style="left:518.69px;top:575.00px;font-size:9.16px;line-height:10px;transform:scaleX(1.0933);color:#3c3c3c;">$</span>
<span class="t num" style="left:553.83px;top:575.00px;font-size:9.01px;line-height:10px;transform:scaleX(1.0808);color:#3c3c3c;">32.00</span>
<span class="t num" style="left:590.38px;top:575.00px;font-size:9.16px;line-height:10px;transform:scaleX(1.0933);color:#3c3c3c;">$</span>
<span class="t num" style="left:598.89px;top:575.00px;font-size:9.16px;line-height:10px;transform:scaleX(1.2008);color:#3c3c3c;">-</span>
<span class="t num" style="left:659.86px;top:575.00px;font-size:9.16px;line-height:10px;transform:scaleX(1.0933);color:#3c3c3c;">$</span>
<span class="t num" style="left:702.90px;top:575.00px;font-size:9.16px;line-height:10px;transform:scaleX(1.1563);color:#3c3c3c;">-</span>
<span class="t num" style="left:731.54px;top:575.00px;font-size:9.16px;line-height:10px;transform:scaleX(1.0933);color:#3c3c3c;">$</span>
<span class="t num" style="left:740.06px;top:575.00px;font-size:9.16px;line-height:10px;transform:scaleX(1.2008);color:#3c3c3c;">-</span>
<span class="t num" style="left:801.03px;top:575.00px;font-size:9.16px;line-height:10px;transform:scaleX(1.0933);color:#3c3c3c;">$</span>
<span class="t num" style="left:844.06px;top:575.00px;font-size:9.16px;line-height:10px;transform:scaleX(1.1563);color:#3c3c3c;">-</span>
<span class="t num" style="left:872.71px;top:575.00px;font-size:9.16px;line-height:10px;transform:scaleX(1.0933);color:#3c3c3c;">$</span>
<span class="t num" style="left:881.23px;top:575.00px;font-size:9.16px;line-height:10px;transform:scaleX(1.2008);color:#3c3c3c;">-</span>
<span class="t num" style="left:942.19px;top:575.00px;font-size:9.16px;line-height:10px;transform:scaleX(1.0933);color:#3c3c3c;">$</span>
<span class="t num" style="left:985.23px;top:575.00px;font-size:9.16px;line-height:10px;transform:scaleX(1.1563);color:#3c3c3c;">-</span>
<span class="t num" style="left:1013.88px;top:575.00px;font-size:9.16px;line-height:10px;transform:scaleX(1.0933);color:#3c3c3c;">$</span>
<span class="t num" style="left:1022.39px;top:575.00px;font-size:9.16px;line-height:10px;transform:scaleX(1.2008);color:#3c3c3c;">-</span>
<span class="t num" style="left:1083.36px;top:575.00px;font-size:9.16px;line-height:10px;transform:scaleX(1.0933);color:#3c3c3c;">$</span>
<span class="t num" style="left:1126.40px;top:575.00px;font-size:9.16px;line-height:10px;transform:scaleX(1.1563);color:#3c3c3c;">-</span>
<span class="t num" style="left:1155.04px;top:575.00px;font-size:9.16px;line-height:10px;transform:scaleX(1.0933);color:#3c3c3c;">$</span>
<span class="t num" style="left:1163.56px;top:575.00px;font-size:9.16px;line-height:10px;transform:scaleX(1.2008);color:#3c3c3c;">-</span>
<span class="t num" style="left:1224.53px;top:575.00px;font-size:9.16px;line-height:10px;transform:scaleX(1.0933);color:#3c3c3c;">$</span>
<span class="t num" style="left:1267.56px;top:575.00px;font-size:9.16px;line-height:10px;transform:scaleX(1.1563);color:#3c3c3c;">-</span>
<span class="t num" style="left:1296.21px;top:575.00px;font-size:9.16px;line-height:10px;transform:scaleX(1.0933);color:#3c3c3c;">$</span>
<span class="t num" style="left:1304.73px;top:575.00px;font-size:9.16px;line-height:10px;transform:scaleX(1.2008);color:#3c3c3c;">-</span>
<span class="t b numb" style="left:1365.04px;top:575.00px;font-size:8.72px;line-height:10px;transform:scaleX(1.2193);color:#0c0c0c;-webkit-text-stroke:0.3px #0c0c0c;">$</span>
<span class="t b numb" style="left:1413.01px;top:575.00px;font-size:8.58px;line-height:10px;transform:scaleX(1.1845);color:#0c0c0c;-webkit-text-stroke:0.3px #0c0c0c;">32.00</span>
<span class="t b lab" style="left:357.89px;top:596.00px;font-size:8.58px;line-height:10px;transform:scaleX(1.1724);color:#0c0c0c;-webkit-text-stroke:0.3px #0c0c0c;">Salary/Wages</span>
<span class="t num" style="left:518.69px;top:596.00px;font-size:9.16px;line-height:10px;transform:scaleX(1.0933);color:#3c3c3c;">$</span>
<span class="t num" style="left:539.07px;top:596.00px;font-size:9.01px;line-height:10px;transform:scaleX(1.1164);color:#3c3c3c;">3,000.00</span>
<span class="t num" style="left:590.38px;top:596.00px;font-size:9.16px;line-height:10px;transform:scaleX(1.0933);color:#3c3c3c;">$</span>
<span class="t num" style="left:598.89px;top:596.00px;font-size:9.16px;line-height:10px;transform:scaleX(1.2008);color:#3c3c3c;">-</span>
<span class="t num" style="left:659.86px;top:596.00px;font-size:9.16px;line-height:10px;transform:scaleX(1.0933);color:#3c3c3c;">$</span>
<span class="t num" style="left:702.90px;top:596.00px;font-size:9.16px;line-height:10px;transform:scaleX(1.1563);color:#3c3c3c;">-</span>
<span class="t num" style="left:731.54px;top:596.00px;font-size:9.16px;line-height:10px;transform:scaleX(1.0933);color:#3c3c3c;">$</span>
<span class="t num" style="left:740.06px;top:596.00px;font-size:9.16px;line-height:10px;transform:scaleX(1.2008);color:#3c3c3c;">-</span>
<span class="t num" style="left:801.03px;top:596.00px;font-size:9.16px;line-height:10px;transform:scaleX(1.0933);color:#3c3c3c;">$</span>
<span class="t num" style="left:844.06px;top:596.00px;font-size:9.16px;line-height:10px;transform:scaleX(1.1563);color:#3c3c3c;">-</span>
<span class="t num" style="left:872.71px;top:596.00px;font-size:9.16px;line-height:10px;transform:scaleX(1.0933);color:#3c3c3c;">$</span>
<span class="t num" style="left:881.23px;top:596.00px;font-size:9.16px;line-height:10px;transform:scaleX(1.2008);color:#3c3c3c;">-</span>
<span class="t num" style="left:942.19px;top:596.00px;font-size:9.16px;line-height:10px;transform:scaleX(1.0933);color:#3c3c3c;">$</span>
<span class="t num" style="left:985.23px;top:596.00px;font-size:9.16px;line-height:10px;transform:scaleX(1.1563);color:#3c3c3c;">-</span>
<span class="t num" style="left:1013.88px;top:596.00px;font-size:9.16px;line-height:10px;transform:scaleX(1.0933);color:#3c3c3c;">$</span>
<span class="t num" style="left:1022.39px;top:596.00px;font-size:9.16px;line-height:10px;transform:scaleX(1.2008);color:#3c3c3c;">-</span>
<span class="t num" style="left:1083.36px;top:596.00px;font-size:9.16px;line-height:10px;transform:scaleX(1.0933);color:#3c3c3c;">$</span>
<span class="t num" style="left:1126.40px;top:596.00px;font-size:9.16px;line-height:10px;transform:scaleX(1.1563);color:#3c3c3c;">-</span>
<span class="t num" style="left:1155.04px;top:596.00px;font-size:9.16px;line-height:10px;transform:scaleX(1.0933);color:#3c3c3c;">$</span>
<span class="t num" style="left:1163.56px;top:596.00px;font-size:9.16px;line-height:10px;transform:scaleX(1.2008);color:#3c3c3c;">-</span>
<span class="t num" style="left:1224.53px;top:596.00px;font-size:9.16px;line-height:10px;transform:scaleX(1.0933);color:#3c3c3c;">$</span>
<span class="t num" style="left:1267.56px;top:596.00px;font-size:9.16px;line-height:10px;transform:scaleX(1.1563);color:#3c3c3c;">-</span>
<span class="t num" style="left:1296.21px;top:596.00px;font-size:9.16px;line-height:10px;transform:scaleX(1.0933);color:#3c3c3c;">$</span>
<span class="t num" style="left:1304.73px;top:596.00px;font-size:9.16px;line-height:10px;transform:scaleX(1.2008);color:#3c3c3c;">-</span>
<span class="t b numb" style="left:1365.04px;top:596.00px;font-size:8.72px;line-height:10px;transform:scaleX(1.2193);color:#0c0c0c;-webkit-text-stroke:0.3px #0c0c0c;">$</span>
<span class="t b numb" style="left:1397.30px;top:596.00px;font-size:8.58px;line-height:10px;transform:scaleX(1.2318);color:#0c0c0c;-webkit-text-stroke:0.3px #0c0c0c;">3,000.00</span>
<span class="t b tot" style="left:357.97px;top:614.00px;font-size:11.77px;line-height:13px;transform:scaleX(1.0795);color:#4879db;-webkit-text-stroke:0.4px #4879db;">Total:</span>
<span class="t b numb" style="left:518.74px;top:617.00px;font-size:8.72px;line-height:10px;transform:scaleX(1.1990);color:#0c0c0c;-webkit-text-stroke:0.3px #0c0c0c;">$</span>
<span class="t b numb" style="left:538.64px;top:617.00px;font-size:8.58px;line-height:10px;transform:scaleX(1.1792);color:#0c0c0c;-webkit-text-stroke:0.3px #0c0c0c;">3,566.00</span>
<span class="t b numb" style="left:589.33px;top:617.00px;font-size:8.72px;line-height:10px;transform:scaleX(1.1990);color:#0c0c0c;-webkit-text-stroke:0.3px #0c0c0c;">$</span>
<span class="t b numb" style="left:632.06px;top:617.00px;font-size:8.72px;line-height:10px;transform:scaleX(1.1524);color:#0c0c0c;-webkit-text-stroke:0.3px #0c0c0c;">-</span>
<span class="t b numb" style="left:659.91px;top:617.00px;font-size:8.72px;line-height:10px;transform:scaleX(1.1990);color:#0c0c0c;-webkit-text-stroke:0.3px #0c0c0c;">$</span>
<span class="t b numb" style="left:702.65px;top:617.00px;font-size:8.72px;line-height:10px;transform:scaleX(1.1524);color:#0c0c0c;-webkit-text-stroke:0.3px #0c0c0c;">-</span>
<span class="t b numb" style="left:730.49px;top:617.00px;font-size:8.72px;line-height:10px;transform:scaleX(1.1990);color:#0c0c0c;-webkit-text-stroke:0.3px #0c0c0c;">$</span>
<span class="t b numb" style="left:773.23px;top:617.00px;font-size:8.72px;line-height:10px;transform:scaleX(1.1524);color:#0c0c0c;-webkit-text-stroke:0.3px #0c0c0c;">-</span>
<span class="t b numb" style="left:801.08px;top:617.00px;font-size:8.72px;line-height:10px;transform:scaleX(1.1990);color:#0c0c0c;-webkit-text-stroke:0.3px #0c0c0c;">$</span>
<span class="t b numb" style="left:843.81px;top:617.00px;font-size:8.72px;line-height:10px;transform:scaleX(1.1524);color:#0c0c0c;-webkit-text-stroke:0.3px #0c0c0c;">-</span>
<span class="t b numb" style="left:871.66px;top:617.00px;font-size:8.72px;line-height:10px;transform:scaleX(1.1990);color:#0c0c0c;-webkit-text-stroke:0.3px #0c0c0c;">$</span>
<span class="t b numb" style="left:914.40px;top:617.00px;font-size:8.72px;line-height:10px;transform:scaleX(1.1524);color:#0c0c0c;-webkit-text-stroke:0.3px #0c0c0c;">-</span>
<span class="t b numb" style="left:942.24px;top:617.00px;font-size:8.72px;line-height:10px;transform:scaleX(1.1990);color:#0c0c0c;-webkit-text-stroke:0.3px #0c0c0c;">$</span>
<span class="t b numb" style="left:984.98px;top:617.00px;font-size:8.72px;line-height:10px;transform:scaleX(1.1524);color:#0c0c0c;-webkit-text-stroke:0.3px #0c0c0c;">-</span>
<span class="t b numb" style="left:1012.83px;top:617.00px;font-size:8.72px;line-height:10px;transform:scaleX(1.1990);color:#0c0c0c;-webkit-text-stroke:0.3px #0c0c0c;">$</span>
<span class="t b numb" style="left:1055.56px;top:617.00px;font-size:8.72px;line-height:10px;transform:scaleX(1.1524);color:#0c0c0c;-webkit-text-stroke:0.3px #0c0c0c;">-</span>
<span class="t b numb" style="left:1083.41px;top:617.00px;font-size:8.72px;line-height:10px;transform:scaleX(1.1990);color:#0c0c0c;-webkit-text-stroke:0.3px #0c0c0c;">$</span>
<span class="t b numb" style="left:1126.15px;top:617.00px;font-size:8.72px;line-height:10px;transform:scaleX(1.1524);color:#0c0c0c;-webkit-text-stroke:0.3px #0c0c0c;">-</span>
<span class="t b numb" style="left:1153.99px;top:617.00px;font-size:8.72px;line-height:10px;transform:scaleX(1.1990);color:#0c0c0c;-webkit-text-stroke:0.3px #0c0c0c;">$</span>
<span class="t b numb" style="left:1196.73px;top:617.00px;font-size:8.72px;line-height:10px;transform:scaleX(1.1524);color:#0c0c0c;-webkit-text-stroke:0.3px #0c0c0c;">-</span>
<span class="t b numb" style="left:1224.58px;top:617.00px;font-size:8.72px;line-height:10px;transform:scaleX(1.1990);color:#0c0c0c;-webkit-text-stroke:0.3px #0c0c0c;">$</span>
<span class="t b numb" style="left:1267.31px;top:617.00px;font-size:8.72px;line-height:10px;transform:scaleX(1.1524);color:#0c0c0c;-webkit-text-stroke:0.3px #0c0c0c;">-</span>
<span class="t b numb" style="left:1295.16px;top:617.00px;font-size:8.72px;line-height:10px;transform:scaleX(1.1990);color:#0c0c0c;-webkit-text-stroke:0.3px #0c0c0c;">$</span>
<span class="t b numb" style="left:1337.90px;top:617.00px;font-size:8.72px;line-height:10px;transform:scaleX(1.1524);color:#0c0c0c;-webkit-text-stroke:0.3px #0c0c0c;">-</span>
<span class="t b numb" style="left:1365.04px;top:617.00px;font-size:8.72px;line-height:10px;transform:scaleX(1.2193);color:#0c0c0c;-webkit-text-stroke:0.3px #0c0c0c;">$</span>
<span class="t b numb" style="left:1399.04px;top:617.00px;font-size:8.58px;line-height:10px;transform:scaleX(1.1792);color:#0c0c0c;-webkit-text-stroke:0.3px #0c0c0c;">3,566.00</span>
<span class="t b hd" style="left:357.54px;top:657.00px;font-size:11.77px;line-height:13px;transform:scaleX(1.0969);color:#fff;-webkit-text-stroke:0.2px #fff;">Saving</span>
<span class="t b lab" style="left:357.76px;top:680.00px;font-size:8.58px;line-height:10px;transform:scaleX(1.1890);color:#0c0c0c;-webkit-text-stroke:0.3px #0c0c0c;">Other</span>
<span class="t num" style="left:518.69px;top:680.00px;font-size:9.16px;line-height:10px;transform:scaleX(1.0933);color:#3c3c3c;">$</span>
<span class="t num" style="left:552.79px;top:680.00px;font-size:9.01px;line-height:10px;transform:scaleX(1.1275);color:#3c3c3c;">50.00</span>
<span class="t num" style="left:590.38px;top:680.00px;font-size:9.16px;line-height:10px;transform:scaleX(1.0933);color:#3c3c3c;">$</span>
<span class="t num" style="left:598.89px;top:680.00px;font-size:9.16px;line-height:10px;transform:scaleX(1.2008);color:#3c3c3c;">-</span>
<span class="t num" style="left:659.86px;top:680.00px;font-size:9.16px;line-height:10px;transform:scaleX(1.0933);color:#3c3c3c;">$</span>
<span class="t num" style="left:702.90px;top:680.00px;font-size:9.16px;line-height:10px;transform:scaleX(1.1563);color:#3c3c3c;">-</span>
<span class="t num" style="left:731.54px;top:680.00px;font-size:9.16px;line-height:10px;transform:scaleX(1.0933);color:#3c3c3c;">$</span>
<span class="t num" style="left:740.06px;top:680.00px;font-size:9.16px;line-height:10px;transform:scaleX(1.2008);color:#3c3c3c;">-</span>
<span class="t num" style="left:801.03px;top:680.00px;font-size:9.16px;line-height:10px;transform:scaleX(1.0933);color:#3c3c3c;">$</span>
<span class="t num" style="left:844.06px;top:680.00px;font-size:9.16px;line-height:10px;transform:scaleX(1.1563);color:#3c3c3c;">-</span>
<span class="t num" style="left:872.71px;top:680.00px;font-size:9.16px;line-height:10px;transform:scaleX(1.0933);color:#3c3c3c;">$</span>
<span class="t num" style="left:881.23px;top:680.00px;font-size:9.16px;line-height:10px;transform:scaleX(1.2008);color:#3c3c3c;">-</span>
<span class="t num" style="left:942.19px;top:680.00px;font-size:9.16px;line-height:10px;transform:scaleX(1.0933);color:#3c3c3c;">$</span>
<span class="t num" style="left:985.23px;top:680.00px;font-size:9.16px;line-height:10px;transform:scaleX(1.1563);color:#3c3c3c;">-</span>
<span class="t num" style="left:1013.88px;top:680.00px;font-size:9.16px;line-height:10px;transform:scaleX(1.0933);color:#3c3c3c;">$</span>
<span class="t num" style="left:1022.39px;top:680.00px;font-size:9.16px;line-height:10px;transform:scaleX(1.2008);color:#3c3c3c;">-</span>
<span class="t num" style="left:1083.36px;top:680.00px;font-size:9.16px;line-height:10px;transform:scaleX(1.0933);color:#3c3c3c;">$</span>
<span class="t num" style="left:1126.40px;top:680.00px;font-size:9.16px;line-height:10px;transform:scaleX(1.1563);color:#3c3c3c;">-</span>
<span class="t num" style="left:1155.04px;top:680.00px;font-size:9.16px;line-height:10px;transform:scaleX(1.0933);color:#3c3c3c;">$</span>
<span class="t num" style="left:1163.56px;top:680.00px;font-size:9.16px;line-height:10px;transform:scaleX(1.2008);color:#3c3c3c;">-</span>
<span class="t num" style="left:1224.53px;top:680.00px;font-size:9.16px;line-height:10px;transform:scaleX(1.0933);color:#3c3c3c;">$</span>
<span class="t num" style="left:1267.56px;top:680.00px;font-size:9.16px;line-height:10px;transform:scaleX(1.1563);color:#3c3c3c;">-</span>
<span class="t num" style="left:1296.21px;top:680.00px;font-size:9.16px;line-height:10px;transform:scaleX(1.0933);color:#3c3c3c;">$</span>
<span class="t num" style="left:1304.73px;top:680.00px;font-size:9.16px;line-height:10px;transform:scaleX(1.2008);color:#3c3c3c;">-</span>
<span class="t b numb" style="left:1365.04px;top:680.00px;font-size:8.72px;line-height:10px;transform:scaleX(1.2193);color:#0c0c0c;-webkit-text-stroke:0.3px #0c0c0c;">$</span>
<span class="t b numb" style="left:1411.86px;top:680.00px;font-size:8.58px;line-height:10px;transform:scaleX(1.2386);color:#0c0c0c;-webkit-text-stroke:0.3px #0c0c0c;">50.00</span>
<span class="t b lab" style="left:357.52px;top:701.00px;font-size:8.58px;line-height:10px;transform:scaleX(1.1265);color:#0c0c0c;-webkit-text-stroke:0.3px #0c0c0c;">Education 1</span>
<span class="t num" style="left:518.69px;top:701.00px;font-size:9.16px;line-height:10px;transform:scaleX(1.0933);color:#3c3c3c;">$</span>
<span class="t num" style="left:546.99px;top:701.00px;font-size:9.01px;line-height:10px;transform:scaleX(1.1337);color:#3c3c3c;">200.00</span>
<span class="t num" style="left:590.38px;top:701.00px;font-size:9.16px;line-height:10px;transform:scaleX(1.0933);color:#3c3c3c;">$</span>
<span class="t num" style="left:598.89px;top:701.00px;font-size:9.16px;line-height:10px;transform:scaleX(1.2008);color:#3c3c3c;">-</span>
<span class="t num" style="left:659.86px;top:701.00px;font-size:9.16px;line-height:10px;transform:scaleX(1.0933);color:#3c3c3c;">$</span>
<span class="t num" style="left:702.90px;top:701.00px;font-size:9.16px;line-height:10px;transform:scaleX(1.1563);color:#3c3c3c;">-</span>
<span class="t num" style="left:731.54px;top:701.00px;font-size:9.16px;line-height:10px;transform:scaleX(1.0933);color:#3c3c3c;">$</span>
<span class="t num" style="left:740.06px;top:701.00px;font-size:9.16px;line-height:10px;transform:scaleX(1.2008);color:#3c3c3c;">-</span>
<span class="t num" style="left:801.03px;top:701.00px;font-size:9.16px;line-height:10px;transform:scaleX(1.0933);color:#3c3c3c;">$</span>
<span class="t num" style="left:844.06px;top:701.00px;font-size:9.16px;line-height:10px;transform:scaleX(1.1563);color:#3c3c3c;">-</span>
<span class="t num" style="left:872.71px;top:701.00px;font-size:9.16px;line-height:10px;transform:scaleX(1.0933);color:#3c3c3c;">$</span>
<span class="t num" style="left:881.23px;top:701.00px;font-size:9.16px;line-height:10px;transform:scaleX(1.2008);color:#3c3c3c;">-</span>
<span class="t num" style="left:942.19px;top:701.00px;font-size:9.16px;line-height:10px;transform:scaleX(1.0933);color:#3c3c3c;">$</span>
<span class="t num" style="left:985.23px;top:701.00px;font-size:9.16px;line-height:10px;transform:scaleX(1.1563);color:#3c3c3c;">-</span>
<span class="t num" style="left:1013.88px;top:701.00px;font-size:9.16px;line-height:10px;transform:scaleX(1.0933);color:#3c3c3c;">$</span>
<span class="t num" style="left:1022.39px;top:701.00px;font-size:9.16px;line-height:10px;transform:scaleX(1.2008);color:#3c3c3c;">-</span>
<span class="t num" style="left:1083.36px;top:701.00px;font-size:9.16px;line-height:10px;transform:scaleX(1.0933);color:#3c3c3c;">$</span>
<span class="t num" style="left:1126.40px;top:701.00px;font-size:9.16px;line-height:10px;transform:scaleX(1.1563);color:#3c3c3c;">-</span>
<span class="t num" style="left:1155.04px;top:701.00px;font-size:9.16px;line-height:10px;transform:scaleX(1.0933);color:#3c3c3c;">$</span>
<span class="t num" style="left:1163.56px;top:701.00px;font-size:9.16px;line-height:10px;transform:scaleX(1.2008);color:#3c3c3c;">-</span>
<span class="t num" style="left:1224.53px;top:701.00px;font-size:9.16px;line-height:10px;transform:scaleX(1.0933);color:#3c3c3c;">$</span>
<span class="t num" style="left:1267.56px;top:701.00px;font-size:9.16px;line-height:10px;transform:scaleX(1.1563);color:#3c3c3c;">-</span>
<span class="t num" style="left:1296.21px;top:701.00px;font-size:9.16px;line-height:10px;transform:scaleX(1.0933);color:#3c3c3c;">$</span>
<span class="t num" style="left:1304.73px;top:701.00px;font-size:9.16px;line-height:10px;transform:scaleX(1.2008);color:#3c3c3c;">-</span>
<span class="t b numb" style="left:1365.04px;top:701.00px;font-size:8.72px;line-height:10px;transform:scaleX(1.2193);color:#0c0c0c;-webkit-text-stroke:0.3px #0c0c0c;">$</span>
<span class="t b numb" style="left:1405.75px;top:701.00px;font-size:8.58px;line-height:10px;transform:scaleX(1.2459);color:#0c0c0c;-webkit-text-stroke:0.3px #0c0c0c;">200.00</span>
<span class="t b lab" style="left:357.50px;top:722.00px;font-size:8.58px;line-height:10px;transform:scaleX(1.1707);color:#0c0c0c;-webkit-text-stroke:0.3px #0c0c0c;">Education 2</span>
<span class="t num" style="left:518.69px;top:722.00px;font-size:9.16px;line-height:10px;transform:scaleX(1.0933);color:#3c3c3c;">$</span>
<span class="t num" style="left:546.71px;top:722.00px;font-size:9.01px;line-height:10px;transform:scaleX(1.1440);color:#3c3c3c;">300.00</span>
<span class="t num" style="left:590.38px;top:722.00px;font-size:9.16px;line-height:10px;transform:scaleX(1.0933);color:#3c3c3c;">$</span>
<span class="t num" style="left:598.89px;top:722.00px;font-size:9.16px;line-height:10px;transform:scaleX(1.2008);color:#3c3c3c;">-</span>
<span class="t num" style="left:659.86px;top:722.00px;font-size:9.16px;line-height:10px;transform:scaleX(1.0933);color:#3c3c3c;">$</span>
<span class="t num" style="left:702.90px;top:722.00px;font-size:9.16px;line-height:10px;transform:scaleX(1.1563);color:#3c3c3c;">-</span>
<span class="t num" style="left:731.54px;top:722.00px;font-size:9.16px;line-height:10px;transform:scaleX(1.0933);color:#3c3c3c;">$</span>
<span class="t num" style="left:740.06px;top:722.00px;font-size:9.16px;line-height:10px;transform:scaleX(1.2008);color:#3c3c3c;">-</span>
<span class="t num" style="left:801.03px;top:722.00px;font-size:9.16px;line-height:10px;transform:scaleX(1.0933);color:#3c3c3c;">$</span>
<span class="t num" style="left:844.06px;top:722.00px;font-size:9.16px;line-height:10px;transform:scaleX(1.1563);color:#3c3c3c;">-</span>
<span class="t num" style="left:872.71px;top:722.00px;font-size:9.16px;line-height:10px;transform:scaleX(1.0933);color:#3c3c3c;">$</span>
<span class="t num" style="left:881.23px;top:722.00px;font-size:9.16px;line-height:10px;transform:scaleX(1.2008);color:#3c3c3c;">-</span>
<span class="t num" style="left:942.19px;top:722.00px;font-size:9.16px;line-height:10px;transform:scaleX(1.0933);color:#3c3c3c;">$</span>
<span class="t num" style="left:985.23px;top:722.00px;font-size:9.16px;line-height:10px;transform:scaleX(1.1563);color:#3c3c3c;">-</span>
<span class="t num" style="left:1013.88px;top:722.00px;font-size:9.16px;line-height:10px;transform:scaleX(1.0933);color:#3c3c3c;">$</span>
<span class="t num" style="left:1022.39px;top:722.00px;font-size:9.16px;line-height:10px;transform:scaleX(1.2008);color:#3c3c3c;">-</span>
<span class="t num" style="left:1083.36px;top:722.00px;font-size:9.16px;line-height:10px;transform:scaleX(1.0933);color:#3c3c3c;">$</span>
<span class="t num" style="left:1126.40px;top:722.00px;font-size:9.16px;line-height:10px;transform:scaleX(1.1563);color:#3c3c3c;">-</span>
<span class="t num" style="left:1155.04px;top:722.00px;font-size:9.16px;line-height:10px;transform:scaleX(1.0933);color:#3c3c3c;">$</span>
<span class="t num" style="left:1163.56px;top:722.00px;font-size:9.16px;line-height:10px;transform:scaleX(1.2008);color:#3c3c3c;">-</span>
<span class="t num" style="left:1224.53px;top:722.00px;font-size:9.16px;line-height:10px;transform:scaleX(1.0933);color:#3c3c3c;">$</span>
<span class="t num" style="left:1267.56px;top:722.00px;font-size:9.16px;line-height:10px;transform:scaleX(1.1563);color:#3c3c3c;">-</span>
<span class="t num" style="left:1296.21px;top:722.00px;font-size:9.16px;line-height:10px;transform:scaleX(1.0933);color:#3c3c3c;">$</span>
<span class="t num" style="left:1304.73px;top:722.00px;font-size:9.16px;line-height:10px;transform:scaleX(1.2008);color:#3c3c3c;">-</span>
<span class="t b numb" style="left:1365.04px;top:722.00px;font-size:8.72px;line-height:10px;transform:scaleX(1.2193);color:#0c0c0c;-webkit-text-stroke:0.3px #0c0c0c;">$</span>
<span class="t b numb" style="left:1405.45px;top:722.00px;font-size:8.58px;line-height:10px;transform:scaleX(1.2575);color:#0c0c0c;-webkit-text-stroke:0.3px #0c0c0c;">300.00</span>
<span class="t b lab" style="left:358.10px;top:743.00px;font-size:8.58px;line-height:10px;transform:scaleX(1.1833);color:#0c0c0c;-webkit-text-stroke:0.3px #0c0c0c;">Investments</span>
<span class="t num" style="left:518.69px;top:743.00px;font-size:9.16px;line-height:10px;transform:scaleX(1.0933);color:#3c3c3c;">$</span>
<span class="t num" style="left:549.69px;top:743.00px;font-size:9.01px;line-height:10px;transform:scaleX(1.0342);color:#3c3c3c;">150.00</span>
<span class="t num" style="left:590.38px;top:743.00px;font-size:9.16px;line-height:10px;transform:scaleX(1.0933);color:#3c3c3c;">$</span>
<span class="t num" style="left:598.89px;top:743.00px;font-size:9.16px;line-height:10px;transform:scaleX(1.2008);color:#3c3c3c;">-</span>
<span class="t num" style="left:659.86px;top:743.00px;font-size:9.16px;line-height:10px;transform:scaleX(1.0933);color:#3c3c3c;">$</span>
<span class="t num" style="left:702.90px;top:743.00px;font-size:9.16px;line-height:10px;transform:scaleX(1.1563);color:#3c3c3c;">-</span>
<span class="t num" style="left:731.54px;top:743.00px;font-size:9.16px;line-height:10px;transform:scaleX(1.0933);color:#3c3c3c;">$</span>
<span class="t num" style="left:740.06px;top:743.00px;font-size:9.16px;line-height:10px;transform:scaleX(1.2008);color:#3c3c3c;">-</span>
<span class="t num" style="left:801.03px;top:743.00px;font-size:9.16px;line-height:10px;transform:scaleX(1.0933);color:#3c3c3c;">$</span>
<span class="t num" style="left:844.06px;top:743.00px;font-size:9.16px;line-height:10px;transform:scaleX(1.1563);color:#3c3c3c;">-</span>
<span class="t num" style="left:872.71px;top:743.00px;font-size:9.16px;line-height:10px;transform:scaleX(1.0933);color:#3c3c3c;">$</span>
<span class="t num" style="left:881.23px;top:743.00px;font-size:9.16px;line-height:10px;transform:scaleX(1.2008);color:#3c3c3c;">-</span>
<span class="t num" style="left:942.19px;top:743.00px;font-size:9.16px;line-height:10px;transform:scaleX(1.0933);color:#3c3c3c;">$</span>
<span class="t num" style="left:985.23px;top:743.00px;font-size:9.16px;line-height:10px;transform:scaleX(1.1563);color:#3c3c3c;">-</span>
<span class="t num" style="left:1013.88px;top:743.00px;font-size:9.16px;line-height:10px;transform:scaleX(1.0933);color:#3c3c3c;">$</span>
<span class="t num" style="left:1022.39px;top:743.00px;font-size:9.16px;line-height:10px;transform:scaleX(1.2008);color:#3c3c3c;">-</span>
<span class="t num" style="left:1083.36px;top:743.00px;font-size:9.16px;line-height:10px;transform:scaleX(1.0933);color:#3c3c3c;">$</span>
<span class="t num" style="left:1126.40px;top:743.00px;font-size:9.16px;line-height:10px;transform:scaleX(1.1563);color:#3c3c3c;">-</span>
<span class="t num" style="left:1155.04px;top:743.00px;font-size:9.16px;line-height:10px;transform:scaleX(1.0933);color:#3c3c3c;">$</span>
<span class="t num" style="left:1163.56px;top:743.00px;font-size:9.16px;line-height:10px;transform:scaleX(1.2008);color:#3c3c3c;">-</span>
<span class="t num" style="left:1224.53px;top:743.00px;font-size:9.16px;line-height:10px;transform:scaleX(1.0933);color:#3c3c3c;">$</span>
<span class="t num" style="left:1267.56px;top:743.00px;font-size:9.16px;line-height:10px;transform:scaleX(1.1563);color:#3c3c3c;">-</span>
<span class="t num" style="left:1296.21px;top:743.00px;font-size:9.16px;line-height:10px;transform:scaleX(1.0933);color:#3c3c3c;">$</span>
<span class="t num" style="left:1304.73px;top:743.00px;font-size:9.16px;line-height:10px;transform:scaleX(1.2008);color:#3c3c3c;">-</span>
<span class="t b numb" style="left:1365.04px;top:743.00px;font-size:8.72px;line-height:10px;transform:scaleX(1.2193);color:#0c0c0c;-webkit-text-stroke:0.3px #0c0c0c;">$</span>
<span class="t b numb" style="left:1408.57px;top:743.00px;font-size:8.58px;line-height:10px;transform:scaleX(1.1373);color:#0c0c0c;-webkit-text-stroke:0.3px #0c0c0c;">150.00</span>
<span class="t b lab" style="left:357.51px;top:764.00px;font-size:8.58px;line-height:10px;transform:scaleX(1.1544);color:#0c0c0c;-webkit-text-stroke:0.3px #0c0c0c;">Retirement (401K, IRA)</span>
<span class="t num" style="left:518.69px;top:764.00px;font-size:9.16px;line-height:10px;transform:scaleX(1.0933);color:#3c3c3c;">$</span>
<span class="t num" style="left:547.55px;top:764.00px;font-size:9.01px;line-height:10px;transform:scaleX(1.1131);color:#3c3c3c;">250.00</span>
<span class="t num" style="left:590.38px;top:764.00px;font-size:9.16px;line-height:10px;transform:scaleX(1.0933);color:#3c3c3c;">$</span>
<span class="t num" style="left:598.89px;top:764.00px;font-size:9.16px;line-height:10px;transform:scaleX(1.2008);color:#3c3c3c;">-</span>
<span class="t num" style="left:659.86px;top:764.00px;font-size:9.16px;line-height:10px;transform:scaleX(1.0933);color:#3c3c3c;">$</span>
<span class="t num" style="left:702.90px;top:764.00px;font-size:9.16px;line-height:10px;transform:scaleX(1.1563);color:#3c3c3c;">-</span>
<span class="t num" style="left:731.54px;top:764.00px;font-size:9.16px;line-height:10px;transform:scaleX(1.0933);color:#3c3c3c;">$</span>
<span class="t num" style="left:740.06px;top:764.00px;font-size:9.16px;line-height:10px;transform:scaleX(1.2008);color:#3c3c3c;">-</span>
<span class="t num" style="left:801.03px;top:764.00px;font-size:9.16px;line-height:10px;transform:scaleX(1.0933);color:#3c3c3c;">$</span>
<span class="t num" style="left:844.06px;top:764.00px;font-size:9.16px;line-height:10px;transform:scaleX(1.1563);color:#3c3c3c;">-</span>
<span class="t num" style="left:872.71px;top:764.00px;font-size:9.16px;line-height:10px;transform:scaleX(1.0933);color:#3c3c3c;">$</span>
<span class="t num" style="left:881.23px;top:764.00px;font-size:9.16px;line-height:10px;transform:scaleX(1.2008);color:#3c3c3c;">-</span>
<span class="t num" style="left:942.19px;top:764.00px;font-size:9.16px;line-height:10px;transform:scaleX(1.0933);color:#3c3c3c;">$</span>
<span class="t num" style="left:985.23px;top:764.00px;font-size:9.16px;line-height:10px;transform:scaleX(1.1563);color:#3c3c3c;">-</span>
<span class="t num" style="left:1013.88px;top:764.00px;font-size:9.16px;line-height:10px;transform:scaleX(1.0933);color:#3c3c3c;">$</span>
<span class="t num" style="left:1022.39px;top:764.00px;font-size:9.16px;line-height:10px;transform:scaleX(1.2008);color:#3c3c3c;">-</span>
<span class="t num" style="left:1083.36px;top:764.00px;font-size:9.16px;line-height:10px;transform:scaleX(1.0933);color:#3c3c3c;">$</span>
<span class="t num" style="left:1126.40px;top:764.00px;font-size:9.16px;line-height:10px;transform:scaleX(1.1563);color:#3c3c3c;">-</span>
<span class="t num" style="left:1155.04px;top:764.00px;font-size:9.16px;line-height:10px;transform:scaleX(1.0933);color:#3c3c3c;">$</span>
<span class="t num" style="left:1163.56px;top:764.00px;font-size:9.16px;line-height:10px;transform:scaleX(1.2008);color:#3c3c3c;">-</span>
<span class="t num" style="left:1224.53px;top:764.00px;font-size:9.16px;line-height:10px;transform:scaleX(1.0933);color:#3c3c3c;">$</span>
<span class="t num" style="left:1267.56px;top:764.00px;font-size:9.16px;line-height:10px;transform:scaleX(1.1563);color:#3c3c3c;">-</span>
<span class="t num" style="left:1296.21px;top:764.00px;font-size:9.16px;line-height:10px;transform:scaleX(1.0933);color:#3c3c3c;">$</span>
<span class="t num" style="left:1304.73px;top:764.00px;font-size:9.16px;line-height:10px;transform:scaleX(1.2008);color:#3c3c3c;">-</span>
<span class="t b numb" style="left:1365.04px;top:764.00px;font-size:8.72px;line-height:10px;transform:scaleX(1.2193);color:#0c0c0c;-webkit-text-stroke:0.3px #0c0c0c;">$</span>
<span class="t b numb" style="left:1406.34px;top:764.00px;font-size:8.58px;line-height:10px;transform:scaleX(1.2233);color:#0c0c0c;-webkit-text-stroke:0.3px #0c0c0c;">250.00</span>
<span class="t b lab" style="left:358.06px;top:785.00px;font-size:8.58px;line-height:10px;transform:scaleX(1.1349);color:#0c0c0c;-webkit-text-stroke:0.3px #0c0c0c;">Transfer to Savings</span>
<span class="t num" style="left:518.69px;top:785.00px;font-size:9.16px;line-height:10px;transform:scaleX(1.0933);color:#3c3c3c;">$</span>
<span class="t num" style="left:548.46px;top:785.00px;font-size:9.01px;line-height:10px;transform:scaleX(1.0795);color:#3c3c3c;">100.00</span>
<span class="t num" style="left:590.38px;top:785.00px;font-size:9.16px;line-height:10px;transform:scaleX(1.0933);color:#3c3c3c;">$</span>
<span class="t num" style="left:598.89px;top:785.00px;font-size:9.16px;line-height:10px;transform:scaleX(1.2008);color:#3c3c3c;">-</span>
<span class="t num" style="left:659.86px;top:785.00px;font-size:9.16px;line-height:10px;transform:scaleX(1.0933);color:#3c3c3c;">$</span>
<span class="t num" style="left:702.90px;top:785.00px;font-size:9.16px;line-height:10px;transform:scaleX(1.1563);color:#3c3c3c;">-</span>
<span class="t num" style="left:731.54px;top:785.00px;font-size:9.16px;line-height:10px;transform:scaleX(1.0933);color:#3c3c3c;">$</span>
<span class="t num" style="left:740.06px;top:785.00px;font-size:9.16px;line-height:10px;transform:scaleX(1.2008);color:#3c3c3c;">-</span>
<span class="t num" style="left:801.03px;top:785.00px;font-size:9.16px;line-height:10px;transform:scaleX(1.0933);color:#3c3c3c;">$</span>
<span class="t num" style="left:844.06px;top:785.00px;font-size:9.16px;line-height:10px;transform:scaleX(1.1563);color:#3c3c3c;">-</span>
<span class="t num" style="left:872.71px;top:785.00px;font-size:9.16px;line-height:10px;transform:scaleX(1.0933);color:#3c3c3c;">$</span>
<span class="t num" style="left:881.23px;top:785.00px;font-size:9.16px;line-height:10px;transform:scaleX(1.2008);color:#3c3c3c;">-</span>
<span class="t num" style="left:942.19px;top:785.00px;font-size:9.16px;line-height:10px;transform:scaleX(1.0933);color:#3c3c3c;">$</span>
<span class="t num" style="left:985.23px;top:785.00px;font-size:9.16px;line-height:10px;transform:scaleX(1.1563);color:#3c3c3c;">-</span>
<span class="t num" style="left:1013.88px;top:785.00px;font-size:9.16px;line-height:10px;transform:scaleX(1.0933);color:#3c3c3c;">$</span>
<span class="t num" style="left:1022.39px;top:785.00px;font-size:9.16px;line-height:10px;transform:scaleX(1.2008);color:#3c3c3c;">-</span>
<span class="t num" style="left:1083.36px;top:785.00px;font-size:9.16px;line-height:10px;transform:scaleX(1.0933);color:#3c3c3c;">$</span>
<span class="t num" style="left:1126.40px;top:785.00px;font-size:9.16px;line-height:10px;transform:scaleX(1.1563);color:#3c3c3c;">-</span>
<span class="t num" style="left:1155.04px;top:785.00px;font-size:9.16px;line-height:10px;transform:scaleX(1.0933);color:#3c3c3c;">$</span>
<span class="t num" style="left:1163.56px;top:785.00px;font-size:9.16px;line-height:10px;transform:scaleX(1.2008);color:#3c3c3c;">-</span>
<span class="t num" style="left:1224.53px;top:785.00px;font-size:9.16px;line-height:10px;transform:scaleX(1.0933);color:#3c3c3c;">$</span>
<span class="t num" style="left:1267.56px;top:785.00px;font-size:9.16px;line-height:10px;transform:scaleX(1.1563);color:#3c3c3c;">-</span>
<span class="t num" style="left:1296.21px;top:785.00px;font-size:9.16px;line-height:10px;transform:scaleX(1.0933);color:#3c3c3c;">$</span>
<span class="t num" style="left:1304.73px;top:785.00px;font-size:9.16px;line-height:10px;transform:scaleX(1.2008);color:#3c3c3c;">-</span>
<span class="t b numb" style="left:1365.04px;top:785.00px;font-size:8.72px;line-height:10px;transform:scaleX(1.2193);color:#0c0c0c;-webkit-text-stroke:0.3px #0c0c0c;">$</span>
<span class="t b numb" style="left:1407.28px;top:785.00px;font-size:8.58px;line-height:10px;transform:scaleX(1.1871);color:#0c0c0c;-webkit-text-stroke:0.3px #0c0c0c;">100.00</span>
<span class="t b lab" style="left:357.50px;top:805.00px;font-size:8.58px;line-height:10px;transform:scaleX(1.1752);color:#0c0c0c;-webkit-text-stroke:0.3px #0c0c0c;">Emergency Fund</span>
<span class="t num" style="left:518.69px;top:805.00px;font-size:9.16px;line-height:10px;transform:scaleX(1.0933);color:#3c3c3c;">$</span>
<span class="t num" style="left:553.70px;top:805.00px;font-size:9.01px;line-height:10px;transform:scaleX(1.0867);color:#3c3c3c;">75.00</span>
<span class="t num" style="left:590.38px;top:805.00px;font-size:9.16px;line-height:10px;transform:scaleX(1.0933);color:#3c3c3c;">$</span>
<span class="t num" style="left:598.89px;top:805.00px;font-size:9.16px;line-height:10px;transform:scaleX(1.2008);color:#3c3c3c;">-</span>
<span class="t num" style="left:659.86px;top:805.00px;font-size:9.16px;line-height:10px;transform:scaleX(1.0933);color:#3c3c3c;">$</span>
<span class="t num" style="left:702.90px;top:805.00px;font-size:9.16px;line-height:10px;transform:scaleX(1.1563);color:#3c3c3c;">-</span>
<span class="t num" style="left:731.54px;top:805.00px;font-size:9.16px;line-height:10px;transform:scaleX(1.0933);color:#3c3c3c;">$</span>
<span class="t num" style="left:740.06px;top:805.00px;font-size:9.16px;line-height:10px;transform:scaleX(1.2008);color:#3c3c3c;">-</span>
<span class="t num" style="left:801.03px;top:805.00px;font-size:9.16px;line-height:10px;transform:scaleX(1.0933);color:#3c3c3c;">$</span>
<span class="t num" style="left:844.06px;top:805.00px;font-size:9.16px;line-height:10px;transform:scaleX(1.1563);color:#3c3c3c;">-</span>
<span class="t num" style="left:872.71px;top:805.00px;font-size:9.16px;line-height:10px;transform:scaleX(1.0933);color:#3c3c3c;">$</span>
<span class="t num" style="left:881.23px;top:805.00px;font-size:9.16px;line-height:10px;transform:scaleX(1.2008);color:#3c3c3c;">-</span>
<span class="t num" style="left:942.19px;top:805.00px;font-size:9.16px;line-height:10px;transform:scaleX(1.0933);color:#3c3c3c;">$</span>
<span class="t num" style="left:985.23px;top:805.00px;font-size:9.16px;line-height:10px;transform:scaleX(1.1563);color:#3c3c3c;">-</span>
<span class="t num" style="left:1013.88px;top:805.00px;font-size:9.16px;line-height:10px;transform:scaleX(1.0933);color:#3c3c3c;">$</span>
<span class="t num" style="left:1022.39px;top:805.00px;font-size:9.16px;line-height:10px;transform:scaleX(1.2008);color:#3c3c3c;">-</span>
<span class="t num" style="left:1083.36px;top:805.00px;font-size:9.16px;line-height:10px;transform:scaleX(1.0933);color:#3c3c3c;">$</span>
<span class="t num" style="left:1126.40px;top:805.00px;font-size:9.16px;line-height:10px;transform:scaleX(1.1563);color:#3c3c3c;">-</span>
<span class="t num" style="left:1155.04px;top:805.00px;font-size:9.16px;line-height:10px;transform:scaleX(1.0933);color:#3c3c3c;">$</span>
<span class="t num" style="left:1163.56px;top:805.00px;font-size:9.16px;line-height:10px;transform:scaleX(1.2008);color:#3c3c3c;">-</span>
<span class="t num" style="left:1224.53px;top:805.00px;font-size:9.16px;line-height:10px;transform:scaleX(1.0933);color:#3c3c3c;">$</span>
<span class="t num" style="left:1267.56px;top:805.00px;font-size:9.16px;line-height:10px;transform:scaleX(1.1563);color:#3c3c3c;">-</span>
<span class="t num" style="left:1296.21px;top:805.00px;font-size:9.16px;line-height:10px;transform:scaleX(1.0933);color:#3c3c3c;">$</span>
<span class="t num" style="left:1304.73px;top:805.00px;font-size:9.16px;line-height:10px;transform:scaleX(1.2008);color:#3c3c3c;">-</span>
<span class="t b numb" style="left:1365.04px;top:805.00px;font-size:8.72px;line-height:10px;transform:scaleX(1.2193);color:#0c0c0c;-webkit-text-stroke:0.3px #0c0c0c;">$</span>
<span class="t b numb" style="left:1412.80px;top:805.00px;font-size:8.58px;line-height:10px;transform:scaleX(1.1941);color:#0c0c0c;-webkit-text-stroke:0.3px #0c0c0c;">75.00</span>
<span class="t b tot" style="left:357.97px;top:824.00px;font-size:11.77px;line-height:13px;transform:scaleX(1.0795);color:#4879db;-webkit-text-stroke:0.4px #4879db;">Total:</span>
<span class="t b numb" style="left:518.74px;top:827.00px;font-size:8.72px;line-height:10px;transform:scaleX(1.1990);color:#0c0c0c;-webkit-text-stroke:0.3px #0c0c0c;">$</span>
<span class="t b numb" style="left:542.59px;top:827.00px;font-size:8.58px;line-height:10px;transform:scaleX(1.0605);color:#0c0c0c;-webkit-text-stroke:0.3px #0c0c0c;">1,125.00</span>
<span class="t b numb" style="left:589.33px;top:827.00px;font-size:8.72px;line-height:10px;transform:scaleX(1.1990);color:#0c0c0c;-webkit-text-stroke:0.3px #0c0c0c;">$</span>
<span class="t b numb" style="left:632.06px;top:827.00px;font-size:8.72px;line-height:10px;transform:scaleX(1.1524);color:#0c0c0c;-webkit-text-stroke:0.3px #0c0c0c;">-</span>
<span class="t b numb" style="left:659.91px;top:827.00px;font-size:8.72px;line-height:10px;transform:scaleX(1.1990);color:#0c0c0c;-webkit-text-stroke:0.3px #0c0c0c;">$</span>
<span class="t b numb" style="left:702.65px;top:827.00px;font-size:8.72px;line-height:10px;transform:scaleX(1.1524);color:#0c0c0c;-webkit-text-stroke:0.3px #0c0c0c;">-</span>
<span class="t b numb" style="left:730.49px;top:827.00px;font-size:8.72px;line-height:10px;transform:scaleX(1.1990);color:#0c0c0c;-webkit-text-stroke:0.3px #0c0c0c;">$</span>
<span class="t b numb" style="left:773.23px;top:827.00px;font-size:8.72px;line-height:10px;transform:scaleX(1.1524);color:#0c0c0c;-webkit-text-stroke:0.3px #0c0c0c;">-</span>
<span class="t b numb" style="left:801.08px;top:827.00px;font-size:8.72px;line-height:10px;transform:scaleX(1.1990);color:#0c0c0c;-webkit-text-stroke:0.3px #0c0c0c;">$</span>
<span class="t b numb" style="left:843.81px;top:827.00px;font-size:8.72px;line-height:10px;transform:scaleX(1.1524);color:#0c0c0c;-webkit-text-stroke:0.3px #0c0c0c;">-</span>
<span class="t b numb" style="left:871.66px;top:827.00px;font-size:8.72px;line-height:10px;transform:scaleX(1.1990);color:#0c0c0c;-webkit-text-stroke:0.3px #0c0c0c;">$</span>
<span class="t b numb" style="left:914.40px;top:827.00px;font-size:8.72px;line-height:10px;transform:scaleX(1.1524);color:#0c0c0c;-webkit-text-stroke:0.3px #0c0c0c;">-</span>
<span class="t b numb" style="left:942.24px;top:827.00px;font-size:8.72px;line-height:10px;transform:scaleX(1.1990);color:#0c0c0c;-webkit-text-stroke:0.3px #0c0c0c;">$</span>
<span class="t b numb" style="left:984.98px;top:827.00px;font-size:8.72px;line-height:10px;transform:scaleX(1.1524);color:#0c0c0c;-webkit-text-stroke:0.3px #0c0c0c;">-</span>
<span class="t b numb" style="left:1012.83px;top:827.00px;font-size:8.72px;line-height:10px;transform:scaleX(1.1990);color:#0c0c0c;-webkit-text-stroke:0.3px #0c0c0c;">$</span>
<span class="t b numb" style="left:1055.56px;top:827.00px;font-size:8.72px;line-height:10px;transform:scaleX(1.1524);color:#0c0c0c;-webkit-text-stroke:0.3px #0c0c0c;">-</span>
<span class="t b numb" style="left:1083.41px;top:827.00px;font-size:8.72px;line-height:10px;transform:scaleX(1.1990);color:#0c0c0c;-webkit-text-stroke:0.3px #0c0c0c;">$</span>
<span class="t b numb" style="left:1126.15px;top:827.00px;font-size:8.72px;line-height:10px;transform:scaleX(1.1524);color:#0c0c0c;-webkit-text-stroke:0.3px #0c0c0c;">-</span>
<span class="t b numb" style="left:1153.99px;top:827.00px;font-size:8.72px;line-height:10px;transform:scaleX(1.1990);color:#0c0c0c;-webkit-text-stroke:0.3px #0c0c0c;">$</span>
<span class="t b numb" style="left:1196.73px;top:827.00px;font-size:8.72px;line-height:10px;transform:scaleX(1.1524);color:#0c0c0c;-webkit-text-stroke:0.3px #0c0c0c;">-</span>
<span class="t b numb" style="left:1224.58px;top:827.00px;font-size:8.72px;line-height:10px;transform:scaleX(1.1990);color:#0c0c0c;-webkit-text-stroke:0.3px #0c0c0c;">$</span>
<span class="t b numb" style="left:1267.31px;top:827.00px;font-size:8.72px;line-height:10px;transform:scaleX(1.1524);color:#0c0c0c;-webkit-text-stroke:0.3px #0c0c0c;">-</span>
<span class="t b numb" style="left:1295.16px;top:827.00px;font-size:8.72px;line-height:10px;transform:scaleX(1.1990);color:#0c0c0c;-webkit-text-stroke:0.3px #0c0c0c;">$</span>
<span class="t b numb" style="left:1337.90px;top:827.00px;font-size:8.72px;line-height:10px;transform:scaleX(1.1524);color:#0c0c0c;-webkit-text-stroke:0.3px #0c0c0c;">-</span>
<span class="t b numb" style="left:1365.04px;top:827.00px;font-size:8.72px;line-height:10px;transform:scaleX(1.2193);color:#0c0c0c;-webkit-text-stroke:0.3px #0c0c0c;">$</span>
<span class="t b numb" style="left:1402.99px;top:827.00px;font-size:8.58px;line-height:10px;transform:scaleX(1.0605);color:#0c0c0c;-webkit-text-stroke:0.3px #0c0c0c;">1,125.00</span>
<span class="t b hd" style="left:357.06px;top:867.00px;font-size:11.77px;line-height:13px;transform:scaleX(1.0838);color:#fff;-webkit-text-stroke:0.2px #fff;">Expenses</span>
<span class="t b hd" style="left:357.21px;top:887.00px;font-size:11.77px;line-height:13px;transform:scaleX(1.1446);color:#fff;-webkit-text-stroke:0.2px #fff;">Home</span>
</div>
</body>
</html>
